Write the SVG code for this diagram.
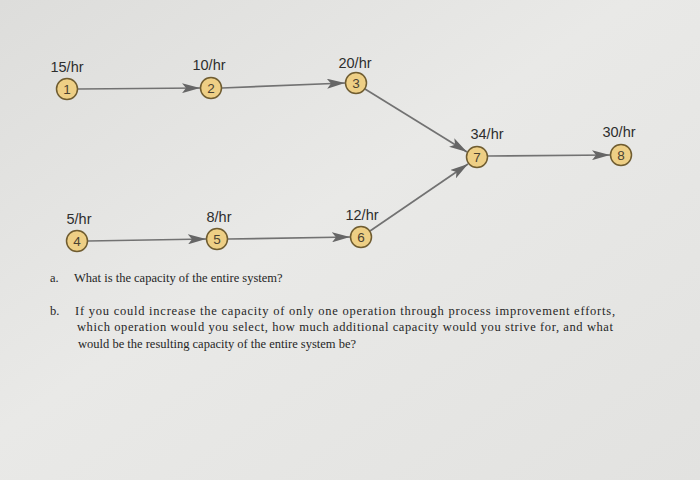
<svg xmlns="http://www.w3.org/2000/svg" width="700" height="480" viewBox="0 0 700 480">
<defs>
<linearGradient id="bg" x1="0" y1="0" x2="1" y2="1">
<stop offset="0" stop-color="#dddddb"/>
<stop offset="0.45" stop-color="#e9e9e7"/>
<stop offset="1" stop-color="#e2e2e0"/>
</linearGradient>
<marker id="ah" viewBox="0 0 18 10" refX="18" refY="5" markerWidth="18" markerHeight="10" markerUnits="userSpaceOnUse" orient="auto">
<path d="M0,0 L18,5 L0,10 L4,5 Z" fill="#666"/>
</marker>
<style>
.edge{stroke:#727272;stroke-width:1.7;fill:none;marker-end:url(#ah)}
.node circle{fill:#eecf85;stroke:#6f5c30;stroke-width:1.5}
.num{font-family:"Liberation Sans",Arial,sans-serif;font-size:13.5px;fill:#4a4232;text-anchor:middle}
.rate{font-family:"Liberation Sans",Arial,sans-serif;font-size:14.5px;fill:#2e2e2e;text-anchor:middle}
.q{font-family:"Liberation Serif","Times New Roman",serif;font-size:12.5px;fill:#262626}
</style>
</defs>
<rect width="700" height="480" fill="url(#bg)"/>
<g id="connectors">
<line class="edge" x1="78" y1="89" x2="200" y2="88"/>
<line class="edge" x1="222" y1="88" x2="345" y2="83"/>
<line class="edge" x1="365" y1="89" x2="467" y2="152"/>
<line class="edge" x1="88" y1="241" x2="206" y2="239"/>
<line class="edge" x1="228" y1="239" x2="350" y2="237"/>
<line class="edge" x1="370" y1="231" x2="468" y2="164"/>
<line class="edge" x1="488" y1="156" x2="610" y2="155"/>
</g>
<g id="node1" class="node"><circle cx="67" cy="89" r="10.5"/><text class="num" x="67" y="94">1</text><text class="rate" x="67" y="72">15/hr</text></g>
<g id="node2" class="node"><circle cx="211" cy="88" r="10.5"/><text class="num" x="211" y="93">2</text><text class="rate" x="209" y="70">10/hr</text></g>
<g id="node3" class="node"><circle cx="356" cy="83" r="10.5"/><text class="num" x="356" y="88">3</text><text class="rate" x="355" y="68">20/hr</text></g>
<g id="node4" class="node"><circle cx="77" cy="241" r="10.5"/><text class="num" x="77" y="246">4</text><text class="rate" x="79" y="224">5/hr</text></g>
<g id="node5" class="node"><circle cx="217" cy="239" r="10.5"/><text class="num" x="217" y="244">5</text><text class="rate" x="219" y="222">8/hr</text></g>
<g id="node6" class="node"><circle cx="361" cy="237" r="10.5"/><text class="num" x="361" y="242">6</text><text class="rate" x="362" y="220">12/hr</text></g>
<g id="node7" class="node"><circle cx="477" cy="157" r="10.5"/><text class="num" x="477" y="162">7</text><text class="rate" x="487" y="139">34/hr</text></g>
<g id="node8" class="node"><circle cx="621" cy="155" r="10.5"/><text class="num" x="621" y="160">8</text><text class="rate" x="619" y="137">30/hr</text></g>
<g id="questions">
<text class="q" x="50" y="282">a.</text>
<text class="q" x="74" y="282">What is the capacity of the entire system?</text>
<text class="q" x="50" y="315">b.</text>
<text class="q" x="75" y="315" font-size="13" textLength="540" lengthAdjust="spacing">If you could increase the capacity of only one operation through process improvement efforts,</text>
<text class="q" x="77" y="331" font-size="13" textLength="536" lengthAdjust="spacing">which operation would you select, how much additional capacity would you strive for, and what</text>
<text class="q" x="78" y="348" font-size="13">would be the resulting capacity of the entire system be?</text>
</g>
</svg>
